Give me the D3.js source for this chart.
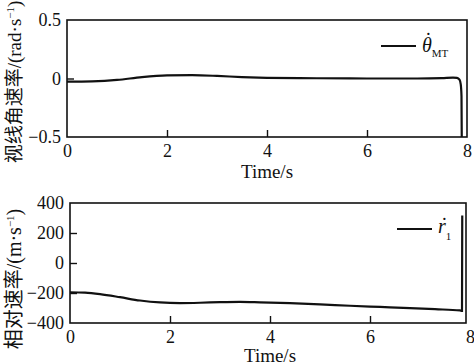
<!DOCTYPE html>
<html>
<head>
<meta charset="utf-8">
<script src="https://cdn.jsdelivr.net/npm/d3@7"></script>
<style>
  body { margin: 0; background: #fff; }
  text { font-family: "Liberation Serif", "Times New Roman", serif; fill: #111; }
  .cjk { font-family: "Noto Sans CJK SC", sans-serif; }
</style>
</head>
<body>
<svg id="chart" width="474" height="364"></svg>
<script>
// line-of-sight angular rate (rad/s) vs time
var thetaT = [0, 0.5, 1.0, 1.5, 2.0, 2.5, 3.0, 3.5, 4.0, 5.0, 6.0, 7.0, 7.5, 7.72, 7.8, 7.85, 7.875, 7.89, 7.895];
var thetaV = [-0.027, -0.024, -0.012, 0.012, 0.026, 0.028, 0.022, 0.012, 0.006, 0.002, 0.0, 0.0, 0.003, 0.007, 0.005, -0.01, -0.05, -0.15, -0.5];
// relative velocity (m/s) vs time
var rT = [0, 0.3, 0.6, 1.0, 1.4, 1.8, 2.2, 2.6, 3.0, 3.4, 3.8, 4.4, 5.0, 5.6, 6.2, 6.8, 7.3, 7.8, 7.84, 7.845];
var rV = [-195, -198, -208, -228, -250, -263, -267, -265, -261, -259, -262, -268, -276, -285, -293, -301, -308, -316, -320, 316];
var xTicks = [0, 2, 4, 6, 8];
var topYTicks = [-0.5, 0, 0.5];
var botYTicks = [-400, -200, 0, 200, 400];

var svg = d3.select("#chart");
var serif = '"Liberation Serif", "Times New Roman", serif';

function panel(cfg){
    var g = svg.append("g");
    var x = d3.scaleLinear().domain([0, 8]).range([cfg.left, cfg.left + 400]);
    var y = d3.scaleLinear().domain(cfg.yDomain).range([cfg.bottom, cfg.top]);

    // data line
    var pts = cfg.t.map(function(d, i){ return [d, cfg.v[i]]; });
    g.append("path")
        .attr("d", d3.line()
            .x(function(d){ return x(d[0]); })
            .y(function(d){ return y(d[1]); })
            .curve(d3.curveMonotoneX)(pts))
        .attr("fill", "none")
        .attr("stroke", "#111")
        .attr("stroke-width", 2.2);

    // frame
    g.append("rect")
        .attr("x", cfg.left).attr("y", cfg.top)
        .attr("width", cfg.right - cfg.left).attr("height", cfg.bottom - cfg.top)
        .attr("fill", "none").attr("stroke", "#111").attr("stroke-width", 1.6);

    // x axis (ticks inward)
    var xa = g.append("g").attr("transform", "translate(0," + cfg.bottom + ")")
        .call(d3.axisBottom(x).tickValues(xTicks).tickSizeInner(-7).tickSizeOuter(0).tickPadding(7)
            .tickFormat(d3.format("d")));
    xa.attr("font-family", null).attr("font-size", null);
    xa.select(".domain").remove();
    xa.selectAll("line").attr("stroke", "#111").attr("stroke-width", 1.4)
        .attr("opacity", function(d){ return (d === 0 || d === 8) ? 0 : 1; });
    xa.selectAll("text").style("font-size", "18px").style("font-family", serif).attr("fill", "#111");

    // y axis
    var ya = g.append("g").attr("transform", "translate(" + cfg.left + ",0)")
        .call(d3.axisLeft(y).tickValues(cfg.yTicks).tickSizeInner(-7).tickSizeOuter(0).tickPadding(6)
            .tickFormat(function(d){ return d < 0 ? "\u2212" + Math.abs(d) : String(d); }));
    ya.attr("font-family", null).attr("font-size", null);
    ya.select(".domain").remove();
    ya.selectAll("line").attr("stroke", "#111").attr("stroke-width", 1.4)
        .attr("opacity", function(d, i){ return (i === 0 || i === cfg.yTicks.length - 1) ? 0 : 1; });
    ya.selectAll("text").style("font-size", "18px").style("font-family", serif).attr("fill", "#111");

    // x title
    g.append("text")
        .attr("x", cfg.left + 200).attr("y", cfg.titleY)
        .attr("text-anchor", "middle").attr("font-size", 19)
        .text("Time/s");

    // y title, rotated
    var yt = g.append("text")
        .attr("transform", "translate(21," + cfg.ylabY + ") rotate(-90)")
        .attr("text-anchor", "middle").attr("font-size", cfg.ylabSize);
    yt.append("tspan").attr("class", "cjk").text(cfg.ylabCn);
    yt.append("tspan").text(cfg.ylabUnit);
    yt.append("tspan").attr("font-size", 11).attr("dy", -7).text("\u22121");
    yt.append("tspan").attr("dy", 7).text(")");

    // legend
    g.append("line")
        .attr("x1", cfg.legX).attr("x2", cfg.legX + 35)
        .attr("y1", cfg.legY).attr("y2", cfg.legY)
        .attr("stroke", "#111").attr("stroke-width", 2.2);
    var lt = g.append("text").attr("x", cfg.legX + 41).attr("y", cfg.legY + cfg.symDy)
        .attr("font-size", 20).attr("font-style", "italic");
    lt.append("tspan").text(cfg.legSym);
    lt.append("tspan").attr("font-size", 11).attr("font-style", "normal").attr("dy", cfg.subDy).text(cfg.legSub);
    g.append("text").attr("x", cfg.legX + 41 + cfg.dotDx).attr("y", cfg.legY + cfg.dotDy)
        .attr("font-size", 20).text("\u02D9");
}

panel({
    left: 67, right: 467, top: 20, bottom: 137,
    yDomain: [-0.5, 0.5], yTicks: topYTicks,
    t: thetaT, v: thetaV,
    titleY: 178,
    ylabY: 82, ylabSize: 19, ylabCn: "视线角速率", ylabUnit: "/(rad·s",
    legX: 381, legY: 46, legSym: "θ", legSub: "MT", symDy: 6, subDy: 5, dotDx: 3, dotDy: 1
});

panel({
    left: 70, right: 466, top: 203, bottom: 323,
    yDomain: [-400, 400], yTicks: botYTicks,
    t: rT, v: rV,
    titleY: 362,
    ylabY: 279, ylabSize: 20, ylabCn: "相对速率", ylabUnit: "/(m·s",
    legX: 397, legY: 229, legSym: "r", legSub: "1", symDy: 4, subDy: 7, dotDx: 3, dotDy: 3
});
</script>
</body>
</html>
